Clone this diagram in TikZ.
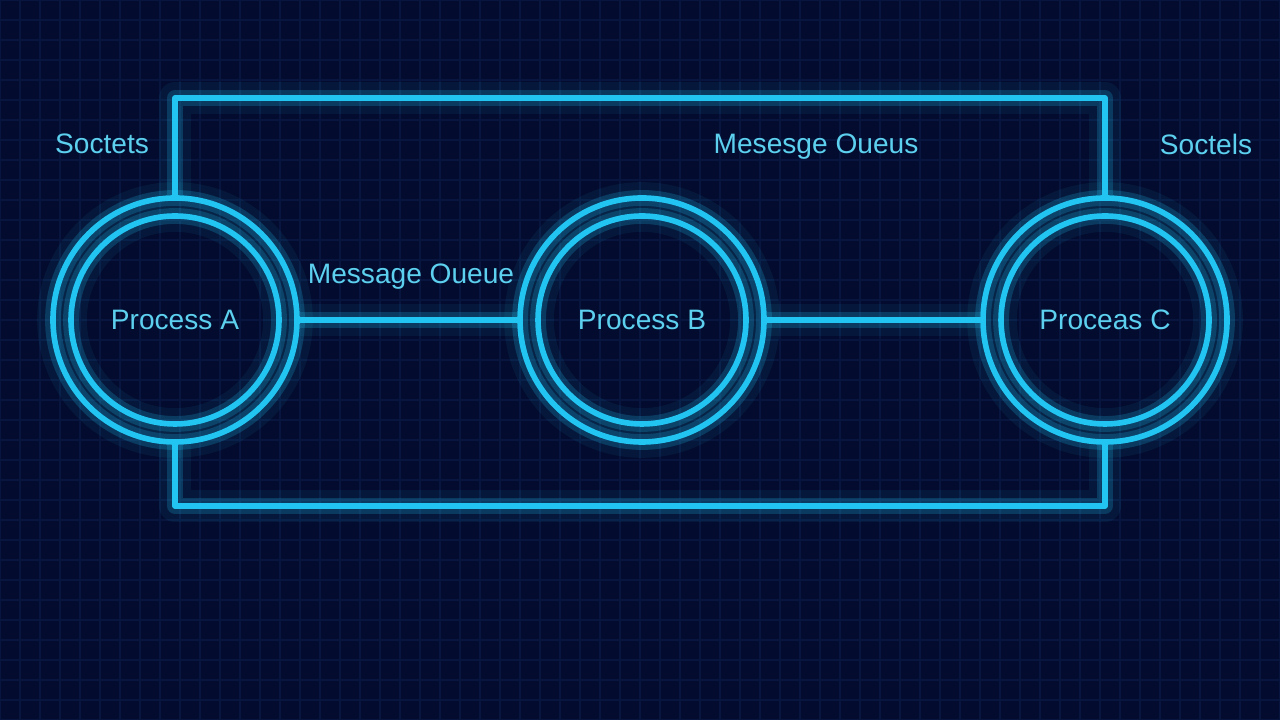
\documentclass[tikz,border=0pt]{standalone}
\usepackage{fontspec}
\setmainfont{Liberation Sans}
\definecolor{bgnavy}{HTML}{030C2E}
\definecolor{gridblue}{HTML}{08163F}
\definecolor{neon}{HTML}{22C4F2}
\definecolor{neontext}{HTML}{5CD0EE}
\begin{document}
\begin{tikzpicture}[
  glow/.style={draw=neon, line width=1.6pt, line join=round,
    preaction={draw=neon, line width=4.5pt, opacity=0.2, line join=round},
    preaction={draw=neon, line width=9pt, opacity=0.07, line join=round}},
  ring/.style={glow, circle, inner sep=0pt, minimum size=#1},
  lbl/.style={text=neontext, font=\fontsize{8}{10}\selectfont}]
\useasboundingbox (0,0) rectangle (12.8,7.2);
\fill[bgnavy] (0,0) rectangle (12.8,7.2);
\draw[gridblue, line width=0.4pt] (0,0) grid[step=0.2] (12.8,7.2);
% processes
\node[ring=2.44cm] (Aout) at (1.75,4) {};
\node[ring=2.08cm, lbl] (Ain) at (1.75,4) {Process A};
\node[ring=2.44cm] (Bout) at (6.42,4) {};
\node[ring=2.08cm, lbl] (Bin) at (6.42,4) {Process B};
\node[ring=2.44cm] (Cout) at (11.05,4) {};
\node[ring=2.08cm, lbl] (Cin) at (11.05,4) {Proceas C};
% loop
\coordinate (tl) at (1.75,6.22);
\coordinate (tr) at (11.05,6.22);
\coordinate (bl) at (1.75,2.14);
\coordinate (br) at (11.05,2.14);
\path[glow] (Aout.north) -- (tl) -- (tr) -- (Cout.north);
\path[glow] (Aout.south) -- (bl) -- (br) -- (Cout.south);
\path[glow] (Aout.east) -- (Bout.west);
\path[glow] (Bout.east) -- (Cout.west);
% labels
\node[lbl] (sockl) at (1.02,5.76) {Soctets};
\node[lbl] (mqtop) at (8.16,5.73) {Mesesge Oueus};
\node[lbl] (sockr) at (12.06,5.76) {Soctels};
\node[lbl] (mqmid) at (4.11,4.43) {Message Oueue};
\end{tikzpicture}
\end{document}
